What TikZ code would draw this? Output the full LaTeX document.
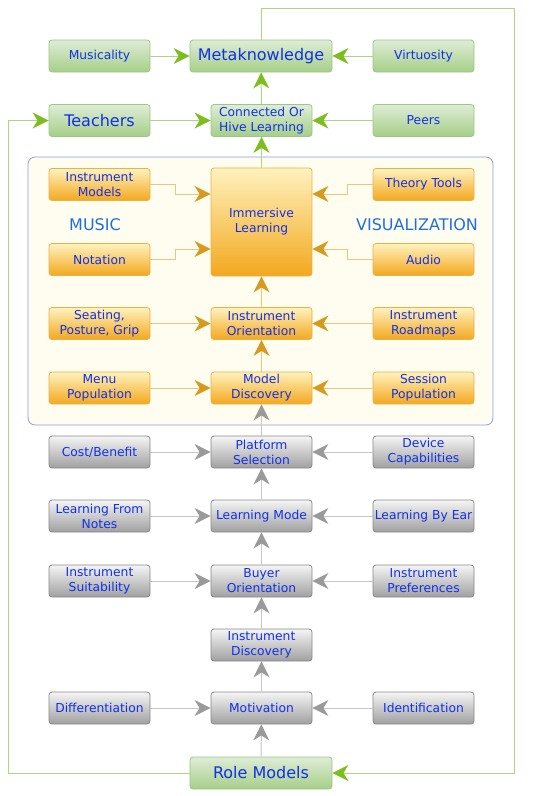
\documentclass[tikz,border=0pt]{standalone}
\usepackage{fontspec}
\setmainfont{DejaVu Sans}
\usetikzlibrary{arrows.meta}
\definecolor{txt}{HTML}{1030EA}
\definecolor{lbl}{HTML}{1E6FE0}
\definecolor{gtop}{HTML}{DEEDD6}
\definecolor{gbot}{HTML}{A6CE88}
\definecolor{gbrd}{HTML}{9EC684}
\definecolor{gln}{HTML}{ADD683}
\definecolor{garr}{HTML}{7DBE1E}
\definecolor{otop}{HTML}{FFF2BE}
\definecolor{obot}{HTML}{F3A81E}
\definecolor{obrd}{HTML}{E6B24A}
\definecolor{oln}{HTML}{EBC67E}
\definecolor{oarr}{HTML}{D69A1E}
\definecolor{ytop}{HTML}{F5F5F5}
\definecolor{ybot}{HTML}{A0A0A0}
\definecolor{ybrd}{HTML}{888888}
\definecolor{yln}{HTML}{C6C6C6}
\definecolor{yarr}{HTML}{9A9A9A}
\definecolor{cbrd}{HTML}{8C9BEF}
\definecolor{cfill}{HTML}{FFFDF0}
\begin{document}
\begin{tikzpicture}[x=1pt,y=-1pt,
  box/.style={rectangle, rounded corners=3pt, inner sep=0pt, minimum height=32pt,
    minimum width=101pt, align=center, text=txt, font=\fontsize{12.3}{15}\selectfont, line width=0.8pt},
  gbox/.style={box, draw=gbrd, top color=gtop, bottom color=gbot},
  obox/.style={box, draw=obrd, top color=otop, bottom color=obot},
  ybox/.style={box, draw=ybrd, top color=ytop, bottom color=ybot},
  big/.style={font=\fontsize{16}{18}\selectfont},
  gline/.style={draw=gln, line width=1pt, arrows={-{Stealth[length=16pt,width=16pt,inset=5pt,color=garr,fill=garr]}}},
  oline/.style={draw=oln, line width=1pt, arrows={-{Stealth[length=16pt,width=16pt,inset=5pt,color=oarr,fill=oarr]}}},
  yline/.style={draw=yln, line width=1pt, arrows={-{Stealth[length=16pt,width=16pt,inset=5pt,color=yarr,fill=yarr]}}},
  sect/.style={text=lbl, font=\fontsize{16}{19}\selectfont}
]
\useasboundingbox (0,0) rectangle (552,796);
\fill[white] (0,0) rectangle (552,796);
% container
\draw[draw=cbrd, fill=cfill, line width=0.8pt, rounded corners=7pt] (28,157) rectangle (493,425);

% nodes
\node[gbox] (mus) at (99.5,56) {Musicality};
\node[gbox, big, minimum width=142pt] (meta) at (261,56) {Metaknowledge};
\node[gbox] (virt) at (423.5,56) {Virtuosity};
\node[gbox, big] (teach) at (99.5,120.5) {Teachers};
\node[gbox] (conn) at (261.5,120.5) {Connected Or\\Hive Learning};
\node[gbox] (peers) at (423.5,120.5) {Peers};

\node[obox] (imod) at (99.5,184.5) {Instrument\\Models};
\node[obox, minimum height=108pt] (imm) at (261.5,222) {Immersive\\Learning};
\node[obox] (theory) at (423.5,184.5) {Theory Tools};
\node[obox] (nota) at (99.5,259.5) {Notation};
\node[obox] (audio) at (423.5,259.5) {Audio};
\node[sect] (music) at (95,225) {MUSIC};
\node[sect] (visu) at (417,225) {VISUALIZATION};

\node[obox] (seat) at (99.5,323.5) {Seating,\\Posture, Grip};
\node[obox] (iori) at (261.5,323.5) {Instrument\\Orientation};
\node[obox] (road) at (423.5,323.5) {Instrument\\Roadmaps};
\node[obox] (menu) at (99.5,388) {Menu\\Population};
\node[obox] (mdis) at (261.5,388) {Model\\Discovery};
\node[obox] (sess) at (423.5,388) {Session\\Population};

\node[ybox] (cost) at (99.5,452) {Cost/Benefit};
\node[ybox] (plat) at (261.5,452) {Platform\\Selection};
\node[ybox] (dev) at (423.5,452) {Device\\Capabilities};
\node[ybox] (lfn) at (99.5,516) {Learning From\\Notes};
\node[ybox] (lmode) at (261.5,516) {Learning Mode};
\node[ybox] (lbe) at (423.5,516) {Learning By Ear};
\node[ybox] (isuit) at (99.5,581) {Instrument\\Suitability};
\node[ybox] (buy) at (261.5,581) {Buyer\\Orientation};
\node[ybox] (ipref) at (423.5,581) {Instrument\\Preferences};
\node[ybox] (idis) at (261.5,645) {Instrument\\Discovery};
\node[ybox] (diff) at (99.5,708) {Differentiation};
\node[ybox] (moti) at (261.5,708) {Motivation};
\node[ybox] (ident) at (423.5,708) {Identification};
\node[gbox, big, minimum width=142pt] (role) at (261,773) {Role Models};

\coordinate (tr) at (514,8);
\coordinate (bl) at (8,773);

% green connectors
\draw[gline] (mus) -- (meta);
\draw[gline] (virt) -- (meta);
\draw[gline] (conn) -- (meta);
\draw[gline] (teach) -- (conn);
\draw[gline] (peers) -- (conn);
\draw[gline] (imm) -- (conn);
\draw[gline] (meta.north) |- (tr) |- (role.east);
\draw[gline] (role.west) -- (bl) |- (teach.west);

% orange connectors
\draw[oline] (imod.east) -- ++(25,0) |- ([yshift=28pt]imm.west);
\draw[oline] (nota.east) -- ++(25,0) |- ([yshift=-27pt]imm.west);
\draw[oline] (theory.west) -- ++(-25,0) |- ([yshift=28pt]imm.east);
\draw[oline] (audio.west) -- ++(-25,0) |- ([yshift=-27pt]imm.east);
\draw[oline] (iori) -- (imm);
\draw[oline] (seat) -- (iori);
\draw[oline] (road) -- (iori);
\draw[oline] (mdis) -- (iori);
\draw[oline] (menu) -- (mdis);
\draw[oline] (sess) -- (mdis);

% gray connectors
\draw[yline] (plat) -- (mdis);
\draw[yline] (cost) -- (plat);
\draw[yline] (dev) -- (plat);
\draw[yline] (lmode) -- (plat);
\draw[yline] (lfn) -- (lmode);
\draw[yline] (lbe) -- (lmode);
\draw[yline] (buy) -- (lmode);
\draw[yline] (isuit) -- (buy);
\draw[yline] (ipref) -- (buy);
\draw[yline] (idis) -- (buy);
\draw[yline] (moti) -- (idis);
\draw[yline] (diff) -- (moti);
\draw[yline] (ident) -- (moti);
\draw[yline] (role) -- (moti);
\end{tikzpicture}
\end{document}
